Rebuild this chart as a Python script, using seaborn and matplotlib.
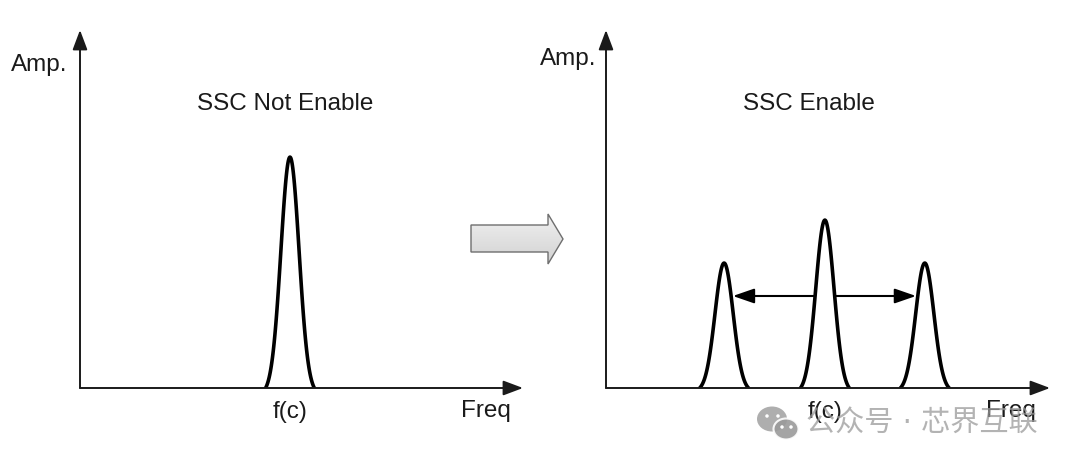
import numpy as np
import pandas as pd
import matplotlib.pyplot as plt
import seaborn as sns
from matplotlib.patches import Polygon, Ellipse

sns.set_theme(style='white')
plt.rcParams['font.family'] = ['Liberation Sans', 'DejaVu Sans']

# 数据 (坐标轴比例: 频率 0..1, 幅度 0..1)
left_centers = [0.474]
left_heights = [0.645]
right_centers = [0.266, 0.493, 0.718]
right_heights = [0.349, 0.469, 0.349]
peak_sigma = 0.0205
peak_halfwidth = 0.055
spread_level = 0.257

left_title = 'SSC Not Enable'
right_title = 'SSC Enable'
y_label = 'Amp.'
x_label = 'Freq'
fc_label = 'f(c)'
watermark = '公众号 · 芯界互联'

INK = '#1a1a1a'


def gauss_tail():
    return np.exp(-peak_halfwidth ** 2 / (2 * peak_sigma ** 2))


def peak_frame(centers, heights):
    rows = []
    gw = gauss_tail()
    for i, (c, h) in enumerate(zip(centers, heights)):
        x = np.linspace(c - peak_halfwidth, c + peak_halfwidth, 121)
        g = np.exp(-(x - c) ** 2 / (2 * peak_sigma ** 2))
        y = h * (g - gw) / (1 - gw)
        rows.append(pd.DataFrame({'freq': x, 'amp': y, 'peak': i}))
    return pd.concat(rows, ignore_index=True)


def draw_panel(ax, centers, heights, title, title_pos, amp_pos, freq_pos, fc_x):
    ax.set_xlim(0, 1)
    ax.set_ylim(0, 1)
    ax.axis('off')
    df = peak_frame(centers, heights)
    for _, g in df.groupby('peak'):
        ax.fill_between(g['freq'], 0, g['amp'], color='white', zorder=2.5)
    sns.lineplot(data=df, x='freq', y='amp', units='peak', estimator=None, sort=False,
                 color='black', lw=2.6, ax=ax, zorder=3, legend=False)
    for ln in ax.lines:
        ln.set_solid_joinstyle('round')
    style = dict(arrowstyle='-|>,head_length=1.2,head_width=0.45', mutation_scale=10,
                 lw=1.4, color=INK, shrinkA=0, shrinkB=0)
    ax.annotate('', xy=(0, 1), xytext=(0, 0), xycoords='axes fraction', arrowprops=style)
    ax.annotate('', xy=(1, 0), xytext=(0, 0), xycoords='axes fraction', arrowprops=style)
    fs = 17.5
    ax.text(*amp_pos, y_label, transform=ax.transAxes, ha='center', va='center', fontsize=fs, color=INK)
    ax.text(*title_pos, title, transform=ax.transAxes, ha='center', va='center', fontsize=fs, color=INK)
    ax.text(*freq_pos, x_label, transform=ax.transAxes, ha='center', va='center', fontsize=fs, color=INK)
    ax.text(fc_x, -0.068, fc_label, transform=ax.get_xaxis_transform(), ha='center', va='center',
            fontsize=fs, color=INK)


fig = plt.figure(figsize=(10.8, 4.66), dpi=100)
W, H = 1080, 466
ax_l = fig.add_axes([80 / W, (H - 388) / H, 443 / W, 358 / H])
ax_r = fig.add_axes([606 / W, (H - 388) / H, 444 / W, 358 / H])

draw_panel(ax_l, left_centers, left_heights, left_title, (0.463, 0.793), (-0.093, 0.902),
           (0.916, -0.064), left_centers[0])
draw_panel(ax_r, right_centers, right_heights, right_title, (0.457, 0.793), (-0.086, 0.919),
           (0.912, -0.064), right_centers[1])

# 扩频范围双向箭头
gw = gauss_tail()
g_lvl = spread_level / right_heights[0] * (1 - gw) + gw
dx = peak_sigma * np.sqrt(-2 * np.log(g_lvl)) + 0.004
ax_r.annotate('', xy=(right_centers[0] + dx, spread_level), xytext=(right_centers[-1] - dx, spread_level),
              arrowprops=dict(arrowstyle='<|-|>,head_length=1.3,head_width=0.45', mutation_scale=10,
                              lw=1.5, color='black', shrinkA=0, shrinkB=0), zorder=2)

# 覆盖层: 中间的大箭头与水印
ov = fig.add_axes([0, 0, 1, 1], zorder=10)
ov.set_xlim(0, W)
ov.set_ylim(H, 0)
ov.axis('off')
ov.patch.set_alpha(0)

arrow_pts = [(471, 225), (548, 225), (548, 214), (563, 239), (548, 264), (548, 252), (471, 252)]
big_arrow = Polygon(arrow_pts, closed=True, facecolor='none', edgecolor='#6e6e6e', lw=1.0, zorder=3)
ov.add_patch(big_arrow)
grad = np.linspace(0, 1, 64).reshape(-1, 1)
im = ov.imshow(grad, extent=(471, 563, 264, 214), cmap=sns.blend_palette(['#f0f0f0', '#d2d2d2'], as_cmap=True),
               aspect='auto', zorder=2)
im.set_clip_path(big_arrow)
ov.set_xlim(0, W)
ov.set_ylim(H, 0)

wm_color = '#9a9a9a'
ov.add_patch(Ellipse((772, 419), 30, 25, facecolor=wm_color, edgecolor='none', alpha=0.8, zorder=4))
ov.add_patch(Ellipse((786, 429), 25, 21, facecolor=wm_color, edgecolor='white', lw=1.5, alpha=0.9, zorder=5))
for ex, ey in [(767, 416), (778, 416), (782, 427), (791, 427)]:
    ov.add_patch(Ellipse((ex, ey), 3.5, 3.5, facecolor='white', edgecolor='none', zorder=6))
ov.text(806, 424, watermark, ha='left', va='center', fontsize=21, color=wm_color, alpha=0.75,
        family=['DejaVu Sans', 'Noto Sans CJK SC'], zorder=6)

fig.savefig('out.png', dpi=100, facecolor='white')
